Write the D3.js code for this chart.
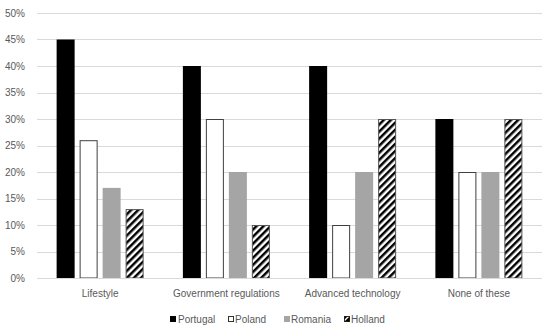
<!DOCTYPE html>
<html><head><meta charset="utf-8">
<script src="https://cdn.jsdelivr.net/npm/d3@7"></script>
<style>body{margin:0;background:#fff;}svg{display:block;}</style>
</head><body>
<script>
const categories = ["Lifestyle", "Government regulations", "Advanced technology", "None of these"];
const seriesNames = ["Portugal", "Poland", "Romania", "Holland"];
const portugal = [45, 40, 40, 30];
const poland = [26, 30, 10, 20];
const romania = [17, 20, 20, 20];
const holland = [13, 10, 30, 30];
const yTicks = [0, 5, 10, 15, 20, 25, 30, 35, 40, 45, 50];

const seriesValues = [portugal, poland, romania, holland];
const W = 546, H = 328;
const svg = d3.select("body").append("svg").attr("width", W).attr("height", H);
const defs = svg.append("defs");
const pat = defs.append("pattern").attr("id", "hatch").attr("patternUnits", "userSpaceOnUse")
  .attr("width", 5).attr("height", 5).attr("patternTransform", "rotate(45)");
pat.append("rect").attr("width", 5).attr("height", 5).attr("fill", "#fff");
pat.append("rect").attr("x", 0).attr("width", 2.5).attr("height", 5).attr("fill", "#000");

const styles = [
  {fill: "#000", stroke: "none"},
  {fill: "#fff", stroke: "#404040"},
  {fill: "#a5a5a5", stroke: "none"},
  {fill: "url(#hatch)", stroke: "#555"}
];

const pL = 37, pR = 542, pT = 13, pB = 278;
const x = d3.scaleBand().domain(categories).range([pL, pR]);
const x1 = d3.scaleBand().domain(seriesNames).range([-43.5, 43.5]).paddingInner(0.217);
const y = d3.scaleLinear().domain([0, 50]).range([pB, pT]);

const font = "'Liberation Sans', Arial, sans-serif";

// gridlines
svg.append("g").selectAll("line").data(yTicks).join("line")
  .attr("x1", pL).attr("x2", pR)
  .attr("y1", d => Math.round(y(d)) + 0.5).attr("y2", d => Math.round(y(d)) + 0.5)
  .attr("stroke", "#d9d9d9").attr("stroke-width", 1);

// y labels
const yAxis = d3.axisLeft(y).tickValues(yTicks).tickFormat(d => d + "%").tickSize(0).tickPadding(0);
const ga = svg.append("g").attr("transform", `translate(25,0)`).call(yAxis);
ga.select(".domain").remove();
ga.selectAll("text").attr("font-family", font).attr("font-size", 10).attr("fill", "#595959");

// bars
seriesNames.forEach((s, si) => {
  const st = styles[si];
  const o = st.stroke !== "none";
  svg.append("g").selectAll("rect").data(categories).join("rect")
    .attr("x", (c) => x(c) + x.bandwidth() / 2 + x1(s) + (o ? 0.5 : 0))
    .attr("y", (c, i) => y(seriesValues[si][i]) + (o ? 0.5 : 0))
    .attr("width", x1.bandwidth() - (o ? 1 : 0))
    .attr("height", (c, i) => pB - y(seriesValues[si][i]) - (o ? 0.5 : 0))
    .attr("fill", st.fill).attr("stroke", st.stroke).attr("stroke-width", 1);
});

// baseline
svg.append("line").attr("x1", pL).attr("x2", pR).attr("y1", pB + 0.5).attr("y2", pB + 0.5)
  .attr("stroke", "#d9d9d9");

// x labels
const xAxis = d3.axisBottom(x).tickSize(0).tickPadding(0);
const gx = svg.append("g").attr("transform", `translate(0,297)`).call(xAxis);
gx.select(".domain").remove();
gx.selectAll("text").attr("dy", 0).attr("font-family", font).attr("font-size", 10).attr("fill", "#595959");

// legend
const legendX = [170, 228, 284, 344];
const lg = svg.append("g");
seriesNames.forEach((s, si) => {
  const st = styles[si];
  const o = st.stroke !== "none";
  const g = lg.append("g").attr("transform", `translate(${legendX[si]},316)`);
  g.append("rect").attr("x", o ? 0.5 : 0).attr("y", o ? 0.5 : 0)
    .attr("width", o ? 5 : 6).attr("height", o ? 5 : 6)
    .attr("fill", si === 3 ? "#fff" : st.fill).attr("stroke", o ? "#333" : null);
  if (si === 3) {
    g.append("path").attr("d", "M0.5,5.5 L5.5,0.5 L5.5,5.5 Z").attr("fill", "#000");
    g.append("path").attr("d", "M0.5,3.5 L3.5,0.5 L0.5,0.5 Z").attr("fill", "#000");
  }
  g.append("text").attr("x", si === 0 ? 8 : 7).attr("y", 6.5).text(s)
    .attr("font-family", font).attr("font-size", 10).attr("fill", "#595959");
});
</script>
</body></html>
